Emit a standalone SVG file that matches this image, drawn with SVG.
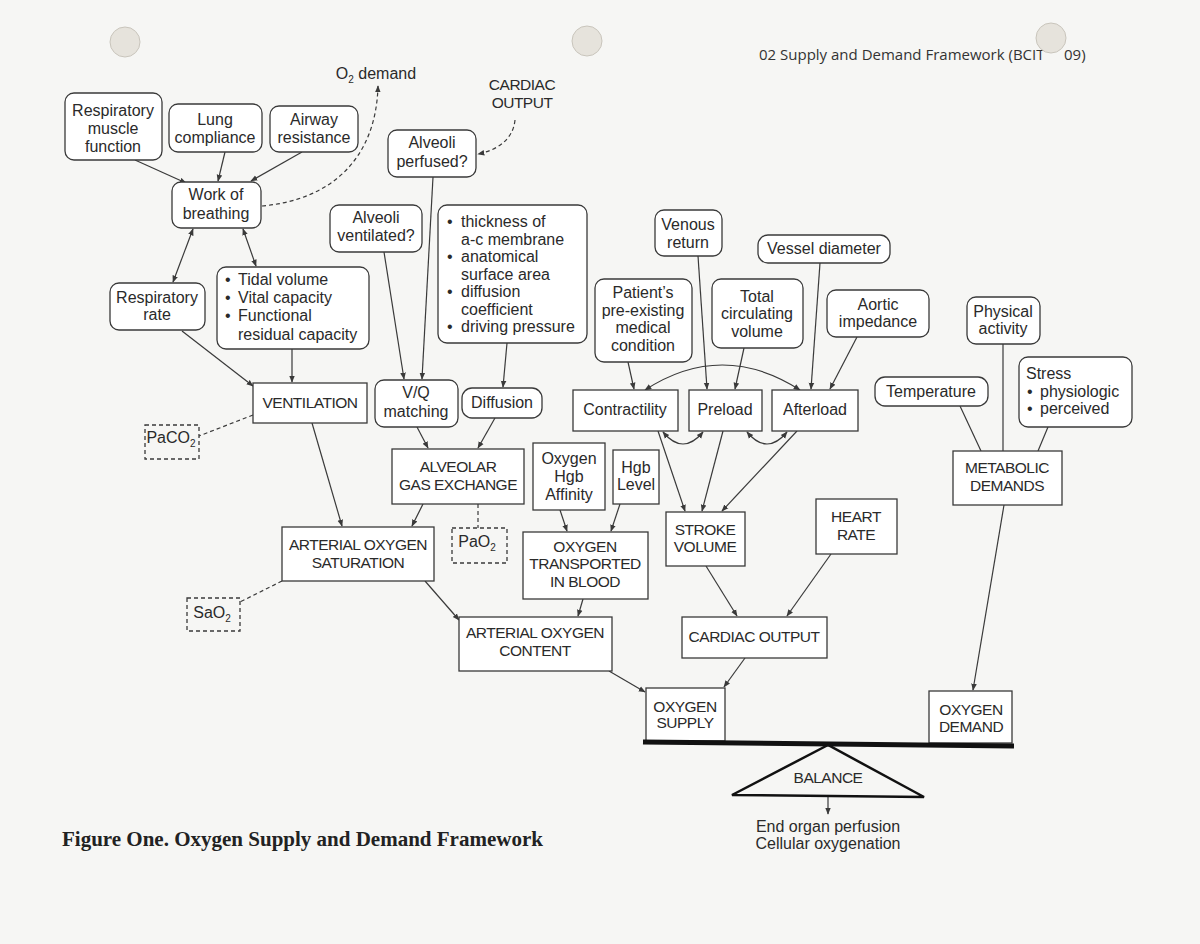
<svg xmlns="http://www.w3.org/2000/svg" width="1200" height="944" viewBox="0 0 1200 944">
<style>
.t{font-family:"Liberation Sans",Arial,sans-serif;font-size:16px;fill:#2a2a2a;text-anchor:middle}
.c{font-size:15.5px;letter-spacing:-0.5px}
.l{text-anchor:start}
.rb{fill:#fff;stroke:#3a3a3a;stroke-width:1.3}
.sb{fill:#fff;stroke:#3a3a3a;stroke-width:1.3}
.db{fill:none;stroke:#3a3a3a;stroke-width:1.3;stroke-dasharray:4 3}
.e{fill:none;stroke:#3a3a3a;stroke-width:1.2}
.d{fill:none;stroke:#3a3a3a;stroke-width:1.2;stroke-dasharray:4 3}
.cap{font-family:"Liberation Serif","Times New Roman",serif;font-weight:bold;font-size:21px;fill:#222}
.hdr{font-family:"Open Sans","Noto Sans",sans-serif;font-size:15px;fill:#333}
</style>
<defs>
<marker id="ah" viewBox="0 0 10 10" refX="9" refY="5" markerWidth="7" markerHeight="7" markerUnits="userSpaceOnUse" orient="auto-start-reverse">
<path d="M0,1 L10,5 L0,9 z" fill="#3a3a3a"/>
</marker>
</defs>
<rect x="0" y="0" width="1200" height="944" fill="#f6f6f4"/>
<g id="header">
<text class="hdr" x="759" y="60">02 Supply and Demand Framework (BCIT</text>
<text class="hdr" x="1064" y="60">09)</text>
</g>
<g id="holes" fill="#e6e3dc" stroke="#c9c5bc" stroke-width="1">
<circle cx="125" cy="42" r="15"/>
<circle cx="587" cy="41" r="15"/>
<circle cx="1051" cy="38" r="15"/>
</g>

<g id="connectors">
<line class="e" x1="135" y1="160" x2="186" y2="183" marker-end="url(#ah)"/>
<line class="e" x1="225" y1="152" x2="218" y2="181" marker-end="url(#ah)"/>
<line class="e" x1="302" y1="152" x2="251" y2="181" marker-end="url(#ah)"/>
<path class="d" d="M262,206 C330,200 376,160 378,86" marker-end="url(#ah)"/>
<path class="d" d="M515,120 C513,140 497,150 478,154" marker-end="url(#ah)"/>
<line class="e" x1="193" y1="229" x2="173" y2="282" marker-start="url(#ah)" marker-end="url(#ah)"/>
<line class="e" x1="243" y1="229" x2="256" y2="266" marker-start="url(#ah)" marker-end="url(#ah)"/>
<line class="e" x1="182" y1="331" x2="253" y2="386" marker-end="url(#ah)"/>
<line class="e" x1="292" y1="349" x2="292" y2="382" marker-end="url(#ah)"/>
<line class="d" x1="253" y1="415" x2="199" y2="436"/>
<line class="e" x1="312" y1="423" x2="342" y2="526" marker-end="url(#ah)"/>
<line class="e" x1="384" y1="252" x2="404" y2="379" marker-end="url(#ah)"/>
<line class="e" x1="433" y1="177" x2="422" y2="379" marker-end="url(#ah)"/>
<line class="e" x1="507" y1="343" x2="503" y2="387" marker-end="url(#ah)"/>
<line class="e" x1="417" y1="427" x2="428" y2="448" marker-end="url(#ah)"/>
<line class="e" x1="495" y1="418" x2="478" y2="448" marker-end="url(#ah)"/>
<line class="e" x1="423" y1="504" x2="412" y2="526" marker-end="url(#ah)"/>
<line class="d" x1="478" y1="504" x2="478" y2="528"/>
<line class="e" x1="560" y1="510" x2="567" y2="531" marker-end="url(#ah)"/>
<line class="e" x1="620" y1="504" x2="611" y2="531" marker-end="url(#ah)"/>
<line class="e" x1="425" y1="581" x2="459" y2="620" marker-end="url(#ah)"/>
<line class="e" x1="583" y1="599" x2="578" y2="616" marker-end="url(#ah)"/>
<line class="e" x1="609" y1="671" x2="645" y2="692" marker-end="url(#ah)"/>
<line class="e" x1="628" y1="362" x2="634" y2="389" marker-end="url(#ah)"/>
<line class="e" x1="698" y1="256" x2="707" y2="389" marker-end="url(#ah)"/>
<line class="e" x1="744" y1="348" x2="735" y2="389" marker-end="url(#ah)"/>
<line class="e" x1="820" y1="263" x2="811" y2="389" marker-end="url(#ah)"/>
<line class="e" x1="857" y1="337" x2="830" y2="389" marker-end="url(#ah)"/>
<path class="e" d="M645,390 Q722,340 800,390" marker-start="url(#ah)" marker-end="url(#ah)"/>
<path class="e" d="M663,432 Q683,456 703,432" marker-start="url(#ah)" marker-end="url(#ah)"/>
<path class="e" d="M747,432 Q767,456 787,432" marker-start="url(#ah)" marker-end="url(#ah)"/>
<line class="e" x1="658" y1="431" x2="685" y2="511" marker-end="url(#ah)"/>
<line class="e" x1="723" y1="431" x2="702" y2="511" marker-end="url(#ah)"/>
<line class="e" x1="797" y1="431" x2="722" y2="511" marker-end="url(#ah)"/>
<line class="e" x1="706" y1="566" x2="737" y2="616" marker-end="url(#ah)"/>
<line class="e" x1="831" y1="554" x2="787" y2="616" marker-end="url(#ah)"/>
<line class="e" x1="745" y1="658" x2="724" y2="687" marker-end="url(#ah)"/>
<line class="e" x1="960" y1="406" x2="981" y2="451"/>
<line class="e" x1="1003" y1="344" x2="1003" y2="451"/>
<line class="e" x1="1048" y1="427" x2="1038" y2="451"/>
<line class="e" x1="1004" y1="505" x2="973" y2="690" marker-end="url(#ah)"/>
<line class="d" x1="282" y1="581" x2="240" y2="602"/>
<line class="e" x1="828" y1="797" x2="828" y2="814" marker-end="url(#ah)"/>
</g>

<g id="n-resp-muscle"><rect class="rb" x="65" y="93" width="97" height="67" rx="9"/>
<text class="t" x="113" y="116">Respiratory</text><text class="t" x="113" y="134">muscle</text><text class="t" x="113" y="152">function</text></g>
<g id="n-lung"><rect class="rb" x="169" y="104" width="93" height="48" rx="9"/>
<text class="t" x="215" y="125">Lung</text><text class="t" x="215" y="143">compliance</text></g>
<g id="n-airway"><rect class="rb" x="270" y="106" width="88" height="46" rx="9"/>
<text class="t" x="314" y="125">Airway</text><text class="t" x="314" y="143">resistance</text></g>
<g id="n-wob"><rect class="rb" x="172" y="182" width="89" height="46" rx="9"/>
<text class="t" x="216" y="200">Work of</text><text class="t" x="216" y="219">breathing</text></g>
<g id="n-o2demand"><text class="t" x="376" y="79">O<tspan font-size="10" dy="4">2</tspan><tspan dy="-4"> demand</tspan></text></g>
<g id="n-co-top"><text class="t c" x="522" y="90">CARDIAC</text><text class="t c" x="522" y="108">OUTPUT</text></g>
<g id="n-perf"><rect class="rb" x="388" y="130" width="88" height="47" rx="9"/>
<text class="t" x="432" y="148">Alveoli</text><text class="t" x="432" y="167">perfused?</text></g>
<g id="n-vent"><rect class="rb" x="330" y="205" width="92" height="47" rx="9"/>
<text class="t" x="376" y="223">Alveoli</text><text class="t" x="376" y="241">ventilated?</text></g>
<g id="n-thick"><rect class="rb" x="438" y="205" width="149" height="138" rx="9"/>
<text class="t l" x="447" y="227">•</text><text class="t l" x="461" y="227">thickness of</text>
<text class="t l" x="461" y="245">a-c membrane</text>
<text class="t l" x="447" y="262">•</text><text class="t l" x="461" y="262">anatomical</text>
<text class="t l" x="461" y="280">surface area</text>
<text class="t l" x="447" y="297">•</text><text class="t l" x="461" y="297">diffusion</text>
<text class="t l" x="461" y="315">coefficient</text>
<text class="t l" x="447" y="332">•</text><text class="t l" x="461" y="332">driving pressure</text></g>
<g id="n-rr"><rect class="rb" x="110" y="283" width="95" height="47" rx="9"/>
<text class="t" x="157" y="303">Respiratory</text><text class="t" x="157" y="320">rate</text></g>
<g id="n-tidal"><rect class="rb" x="217" y="267" width="152" height="82" rx="9"/>
<text class="t l" x="225" y="285">•</text><text class="t l" x="238" y="285">Tidal volume</text>
<text class="t l" x="225" y="303">•</text><text class="t l" x="238" y="303">Vital capacity</text>
<text class="t l" x="225" y="321">•</text><text class="t l" x="238" y="321">Functional</text>
<text class="t l" x="238" y="340">residual capacity</text></g>
<g id="n-ventilation"><rect class="sb" x="253" y="383" width="114" height="40"/>
<text class="t c" x="310" y="408">VENTILATION</text></g>
<g id="n-paco2"><rect class="db" x="145" y="425" width="54" height="34"/>
<text class="t" x="171" y="443">PaCO<tspan font-size="10" dy="4">2</tspan></text></g>
<g id="n-vq"><rect class="rb" x="375" y="380" width="83" height="47" rx="9"/>
<text class="t" x="416" y="398">V/Q</text><text class="t" x="416" y="417">matching</text></g>
<g id="n-diff"><rect class="rb" x="462" y="388" width="80" height="30" rx="10"/>
<text class="t" x="502" y="408">Diffusion</text></g>
<g id="n-age"><rect class="sb" x="392" y="449" width="132" height="55"/>
<text class="t c" x="458" y="472">ALVEOLAR</text><text class="t c" x="458" y="490">GAS EXCHANGE</text></g>
<g id="n-affinity"><rect class="sb" x="533" y="443" width="72" height="67"/>
<text class="t" x="569" y="464">Oxygen</text><text class="t" x="569" y="482">Hgb</text><text class="t" x="569" y="500">Affinity</text></g>
<g id="n-hgb"><rect class="sb" x="613" y="450" width="46" height="54"/>
<text class="t" x="636" y="473">Hgb</text><text class="t" x="636" y="490">Level</text></g>
<g id="n-pao2"><rect class="db" x="452" y="528" width="55" height="35"/>
<text class="t" x="477" y="547">PaO<tspan font-size="10" dy="4">2</tspan></text></g>
<g id="n-transported"><rect class="sb" x="523" y="532" width="125" height="67"/>
<text class="t c" x="585" y="552">OXYGEN</text><text class="t c" x="585" y="569">TRANSPORTED</text><text class="t c" x="585" y="587">IN BLOOD</text></g>
<g id="n-sat"><rect class="sb" x="282" y="527" width="152" height="54"/>
<text class="t c" x="358" y="550">ARTERIAL OXYGEN</text><text class="t c" x="358" y="568">SATURATION</text></g>
<g id="n-sao2"><rect class="db" x="187" y="598" width="53" height="33"/>
<text class="t" x="212" y="618">SaO<tspan font-size="10" dy="4">2</tspan></text></g>
<g id="n-content"><rect class="sb" x="459" y="617" width="153" height="54"/>
<text class="t c" x="535" y="638">ARTERIAL OXYGEN</text><text class="t c" x="535" y="656">CONTENT</text></g>
<g id="n-venous"><rect class="rb" x="655" y="210" width="67" height="46" rx="9"/>
<text class="t" x="688" y="230">Venous</text><text class="t" x="688" y="248">return</text></g>
<g id="n-vessel"><rect class="rb" x="758" y="235" width="132" height="28" rx="10"/>
<text class="t" x="824" y="254">Vessel diameter</text></g>
<g id="n-patient"><rect class="rb" x="595" y="279" width="97" height="83" rx="9"/>
<text class="t" x="643" y="298">Patient’s</text><text class="t" x="643" y="316">pre-existing</text><text class="t" x="643" y="333">medical</text><text class="t" x="643" y="351">condition</text></g>
<g id="n-total"><rect class="rb" x="712" y="279" width="91" height="69" rx="9"/>
<text class="t" x="757" y="302">Total</text><text class="t" x="757" y="319">circulating</text><text class="t" x="757" y="337">volume</text></g>
<g id="n-aortic"><rect class="rb" x="827" y="290" width="102" height="47" rx="9"/>
<text class="t" x="878" y="310">Aortic</text><text class="t" x="878" y="327">impedance</text></g>
<g id="n-contract"><rect class="sb" x="573" y="390" width="105" height="41"/>
<text class="t" x="625" y="415">Contractility</text></g>
<g id="n-preload"><rect class="sb" x="689" y="390" width="73" height="41"/>
<text class="t" x="725" y="415">Preload</text></g>
<g id="n-afterload"><rect class="sb" x="772" y="390" width="86" height="41"/>
<text class="t" x="815" y="415">Afterload</text></g>
<g id="n-sv"><rect class="sb" x="666" y="512" width="79" height="54"/>
<text class="t c" x="705" y="535">STROKE</text><text class="t c" x="705" y="552">VOLUME</text></g>
<g id="n-hr"><rect class="sb" x="816" y="499" width="81" height="55"/>
<text class="t c" x="856" y="522">HEART</text><text class="t c" x="856" y="540">RATE</text></g>
<g id="n-co"><rect class="sb" x="682" y="617" width="145" height="41"/>
<text class="t c" x="754" y="642">CARDIAC OUTPUT</text></g>
<g id="n-temp"><rect class="rb" x="875" y="377" width="113" height="29" rx="10"/>
<text class="t" x="931" y="397">Temperature</text></g>
<g id="n-phys"><rect class="rb" x="967" y="297" width="73" height="47" rx="9"/>
<text class="t" x="1003" y="317">Physical</text><text class="t" x="1003" y="334">activity</text></g>
<g id="n-stress"><rect class="rb" x="1019" y="357" width="113" height="70" rx="9"/>
<text class="t l" x="1026" y="379">Stress</text>
<text class="t l" x="1027" y="397">•</text><text class="t l" x="1040" y="397">physiologic</text>
<text class="t l" x="1027" y="414">•</text><text class="t l" x="1040" y="414">perceived</text></g>
<g id="n-metab"><rect class="sb" x="953" y="451" width="109" height="54"/>
<text class="t c" x="1007" y="473">METABOLIC</text><text class="t c" x="1007" y="491">DEMANDS</text></g>
<g id="n-supply"><rect class="sb" x="646" y="688" width="79" height="53"/>
<text class="t c" x="685" y="712">OXYGEN</text><text class="t c" x="685" y="728">SUPPLY</text></g>
<g id="n-demand"><rect class="sb" x="929" y="691" width="83" height="52"/>
<text class="t c" x="971" y="715">OXYGEN</text><text class="t c" x="971" y="732">DEMAND</text></g>
<g id="n-balance">
<line x1="643" y1="742" x2="1014" y2="746" stroke="#111" stroke-width="5"/>
<polygon points="828,745 732,795 924,797" fill="none" stroke="#111" stroke-width="2.5"/>
<text class="t c" x="828" y="783">BALANCE</text></g>
<g id="n-outcome"><text class="t" x="828" y="832">End organ perfusion</text><text class="t" x="828" y="849">Cellular oxygenation</text></g>
<g id="caption"><text class="cap" x="62" y="846">Figure One. Oxygen Supply and Demand Framework</text></g>
</svg>
